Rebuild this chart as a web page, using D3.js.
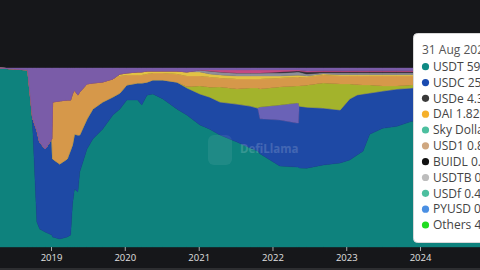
<!DOCTYPE html>
<html>
<head>
<meta charset="utf-8">
<script src="https://cdn.jsdelivr.net/npm/d3@7"></script>
<style>
  html, body { margin: 0; padding: 0; background: #16171a; }
  svg { display: block; font-family: 'Open Sans', 'Noto Sans', sans-serif; }
</style>
</head>
<body>
<svg id="chart" width="480" height="270"></svg>
<script>
// dominance (%) per date
const dates = [
  '2018-04-20', '2018-09-08', '2018-10-02', '2018-10-23', '2018-11-06', '2018-12-03', '2019-01-05', '2019-01-09', '2019-02-13', '2019-03-22',
  '2019-04-08', '2019-04-17', '2019-04-27', '2019-05-14', '2019-05-23', '2019-06-28', '2019-07-27', '2019-09-14', '2019-11-03', '2019-12-08',
  '2020-01-11', '2020-03-05', '2020-03-25', '2020-04-20', '2020-05-19', '2020-07-08', '2020-09-16', '2020-11-03', '2021-01-07', '2021-02-25',
  '2021-04-16', '2021-07-09', '2021-09-13', '2021-10-20', '2021-10-31', '2022-02-06', '2022-05-01', '2022-05-10', '2022-05-13', '2022-06-20',
  '2022-09-09', '2022-12-02', '2023-01-18', '2023-02-24', '2023-03-25', '2023-04-27', '2023-06-30', '2023-09-09', '2023-11-21', '2024-06-01',
  '2025-08-31'
]

const usdt = [
  100, 98.9, 68.2, 14.0, 10.1, 8.4, 6.7, 5.6, 4.5, 5.6,
  6.7, 23.5, 32.4, 30.7, 41.9, 54.7, 60.3, 65.9, 73.7, 77.1,
  82.1, 82.1, 79.3, 84.9, 85.5, 82.7, 77.1, 73.7, 68.2, 65.9,
  62.6, 58.7, 55.3, 53.6, 52.5, 45.3, 44.7, 44.7, 44.1, 44.1,
  45.8, 46.9, 48.6, 51.4, 53.1, 62.6, 65.9, 67.0, 69.8, 70.0,
  59.3
]
const usdc = [
  0, 0, 3.9, 51.4, 48.6, 46.4, 53.6, 43.6, 41.9, 43.6,
  47.5, 33.5, 30.7, 31.8, 20.7, 16.8, 16.8, 15.1, 10.1, 8.9,
  8.4, 9.5, 12.3, 7.3, 7.8, 10.6, 15.1, 15.1, 17.3, 17.9,
  18.4, 21.2, 23.5, 24.0, 19.6, 25.7, 24.6, 24.6, 34.6, 34.1,
  31.8, 29.6, 34.1, 33.5, 31.8, 22.9, 20.7, 20.7, 18.4, 21.0,
  25.1
]
const ust = [
  0, 0, 0, 0, 0, 0, 0, 0, 0, 0,
  0, 0, 0, 0, 0, 0, 0, 0, 0, 0,
  0, 0, 0, 0, 0, 0, 0, 0, 0, 0,
  0, 0, 0, 0, 6.7, 8.4, 11.2, 11.2, 0, 0,
  0, 0, 0, 0, 0, 0, 0, 0, 0, 0,
  0
]
const busd = [
  0, 0, 0, 0, 0, 0, 0, 0, 0, 0,
  0, 0, 0, 0, 0, 0, 0, 0, 0, 0,
  0, 0, 0, 0, 0, 0, 0, 0.6, 4.5, 5.6,
  8.4, 8.4, 10.1, 11.2, 10.1, 10.1, 9.5, 9.5, 11.2, 12.3,
  14.0, 14.5, 8.4, 5.6, 5.0, 4.5, 2.8, 1.7, 1.7, 0.5,
  0
]
const dai = [
  0, 0, 0, 0, 0, 0, 0, 31.8, 35.2, 33.0,
  27.9, 28.5, 24.6, 22.3, 24.0, 19.6, 14.5, 11.2, 10.1, 9.5,
  5.6, 4.5, 4.5, 4.5, 3.9, 3.9, 4.5, 6.1, 5.6, 5.6,
  5.0, 5.6, 5.0, 5.0, 5.6, 5.0, 5.0, 5.0, 5.0, 4.5,
  4.5, 4.5, 4.5, 5.0, 5.0, 5.0, 5.6, 5.6, 5.0, 3.5,
  1.8
]
const usdp = [
  0, 0, 0, 0, 0, 0, 0, 0, 0, 0,
  0, 0, 0, 0, 0, 0, 0, 0, 0, 1.1,
  1.1, 1.7, 1.7, 1.7, 1.1, 1.1, 1.7, 2.2, 2.2, 1.7,
  1.7, 1.7, 1.7, 1.7, 1.7, 1.1, 1.1, 1.1, 1.1, 0.6,
  0.6, 0.6, 0.6, 0.6, 0.6, 0.6, 0.6, 0.6, 0.6, 0.6,
  4.3
]
const frax = [
  0, 0, 0, 0, 0, 0, 0, 0, 0, 0,
  0, 0, 0, 0, 0, 0, 0, 0, 0, 0,
  0, 0, 0, 0, 0, 0, 0, 0, 1.1, 1.7,
  1.7, 1.7, 1.7, 1.7, 1.7, 1.7, 1.7, 1.7, 1.7, 1.1,
  0.6, 1.1, 1.1, 1.1, 1.1, 1.1, 1.1, 1.1, 1.1, 1.1,
  4.5
]
const usdd = [
  0, 0, 0, 0, 0, 0, 0, 0, 0, 0,
  0, 0, 0, 0, 0, 0, 0, 0, 0, 0,
  0, 0, 0, 0, 0, 0, 0, 0, 0, 0,
  0, 0, 0, 0, 0, 0.6, 0.6, 0.6, 0.6, 1.1,
  0.6, 0.6, 0.6, 0.6, 0.6, 0.6, 0.6, 0.6, 0.6, 0.6,
  2.0
]
const lusd = [
  0, 0, 0, 0, 0, 0, 0, 0, 0, 0,
  0, 0, 0, 0, 0, 0, 0, 0, 0, 0,
  0, 0, 0, 0, 0, 0, 0, 0, 0, 0.6,
  1.1, 1.7, 1.7, 1.7, 1.7, 1.1, 0.6, 0.6, 0.6, 0.6,
  0.6, 0.6, 0.6, 0.6, 0.6, 0.6, 0.6, 0.6, 0.6, 0.6,
  1.5
]
const tusd = [
  0, 1.1, 27.9, 34.6, 41.3, 45.3, 39.7, 19.0, 18.4, 17.9,
  17.9, 14.5, 12.3, 15.1, 13.4, 8.9, 8.4, 7.8, 6.1, 3.4,
  2.8, 2.2, 2.2, 1.7, 1.7, 1.7, 1.7, 2.2, 1.1, 1.1,
  1.1, 1.1, 1.1, 1.1, 1.1, 1.1, 1.1, 1.1, 1.1, 1.7,
  1.5, 1.5, 1.5, 1.5, 1.5, 1.5, 1.5, 1.5, 1.5, 2.0,
  1.5
]

const seriesNames = ['USDT', 'USDC', 'UST', 'BUSD', 'DAI', 'USDP', 'FRAX', 'USDD', 'LUSD', 'TUSD']
const seriesValues = [usdt, usdc, ust, busd, dai, usdp, frax, usdd, lusd, tusd]
const seriesColors = ['#0e827d', '#1e49a5', '#6a62b7', '#a3b32c', '#d6984a', '#e2c244', '#8d8d99', '#2e2f36', '#c44a82', '#7a5ca8']

const yearTicks = ['2019', '2020', '2021', '2022', '2023', '2024']

// tooltip (last date)
const tipDate = '31 Aug 2025'
const tipNames = ['USDT', 'USDC', 'USDe', 'DAI', 'Sky Dollar', 'USD1', 'BUIDL', 'USDTB', 'USDf', 'PYUSD', 'Others']
const tipValues = ['59.33%', '25.08%', '4.35%', '1.82%', '1.77%', '0.87%', '0.45%', '0.47%', '0.41%', '0.40%', '4.05%']
const tipColors = ['#0e8a84', '#1a4bb0', '#3a3a3a', '#f5b02a', '#4cbf9f', '#cfa780', '#111111', '#bdbdbd', '#4cbf9f', '#4a8fe3', '#1fdc1f']

const parse = d3.timeParse('%Y-%m-%d')
const rows = dates.map((d, i) => {
  const row = { date: parse(d) }
  seriesNames.forEach((name, k) => { row[name] = seriesValues[k][i] })
  return row
})

const svg = d3.select('#chart')
const margin = { top: 68, bottom: 247 }

// 2019 and 2024 ticks anchor the time scale, the rest extrapolates
const x = d3.scaleTime()
  .domain(d3.extent(yearTicks, (t) => parse(t + '-01-01')))
  .range([51, 420])

const y = d3.scaleLinear().domain([0, 1]).range([margin.bottom, margin.top])

const stack = d3.stack().keys(seriesNames).offset(d3.stackOffsetExpand)
const layers = stack(rows)

const area = d3.area()
  .x((d) => x(d.data.date))
  .y0((d) => y(d[0]))
  .y1((d) => y(d[1]))

svg.append('g')
  .selectAll('path')
  .data(layers)
  .join('path')
  .attr('d', area)
  .attr('fill', (d, i) => seriesColors[i])
  .attr('stroke', (d, i) => seriesColors[i])
  .attr('stroke-width', 0.4)

// watermark
const wm = svg.append('g')
wm.append('rect')
  .attr('x', 208).attr('y', 135).attr('width', 24).attr('height', 30).attr('rx', 6)
  .attr('fill', '#fff')
  .attr('opacity', 0.07)
wm.append('text')
  .attr('x', 240).attr('y', 153)
  .attr('fill', '#fff')
  .attr('opacity', 0.16)
  .attr('font-size', 11.5)
  .attr('font-weight', 700)
  .text('DefiLlama')

// x axis
const axis = d3.axisBottom(x)
  .tickValues(yearTicks.map((t) => parse(t + '-01-01')))
  .tickFormat(d3.timeFormat('%Y'))
  .tickSize(4)
  .tickPadding(3)

const gx = svg.append('g')
  .attr('transform', `translate(0,${margin.bottom})`)
  .call(axis)
gx.select('.domain').remove()
gx.selectAll('line').attr('stroke', '#aaa')
gx.selectAll('text')
  .attr('fill', '#e0e0e0')
  .attr('font-size', 9.5)
  .attr('font-family', "'Open Sans', sans-serif")

svg.append('rect')
  .attr('x', 0).attr('y', 268).attr('width', 480).attr('height', 2)
  .attr('fill', '#2d2e31')

// tooltip, cut by the right edge like the source screenshot
const tip = svg.append('g')
tip.append('rect')
  .attr('x', 413.5).attr('y', 33.5).attr('width', 90).attr('height', 209).attr('rx', 4)
  .attr('fill', '#fff')
  .attr('stroke', '#d8d8d8')

tip.append('text')
  .attr('x', 422).attr('y', 50).attr('dy', '0.35em')
  .attr('fill', '#555')
  .attr('font-size', 12)
  .text(tipDate)

const rowsTip = tip.selectAll('g.row')
  .data(tipNames)
  .join('g')
  .attr('class', 'row')
  .attr('transform', (d, i) => `translate(0,${66.7 + i * 15.83})`)

rowsTip.append('circle')
  .attr('cx', 425.5).attr('r', 3.6)
  .attr('fill', (d, i) => tipColors[i])

rowsTip.append('text')
  .attr('x', 433).attr('dy', '0.35em')
  .attr('fill', '#444')
  .attr('font-size', 12)
  .text((d, i) => `${d} ${tipValues[i]}`)
</script>
</body>
</html>
